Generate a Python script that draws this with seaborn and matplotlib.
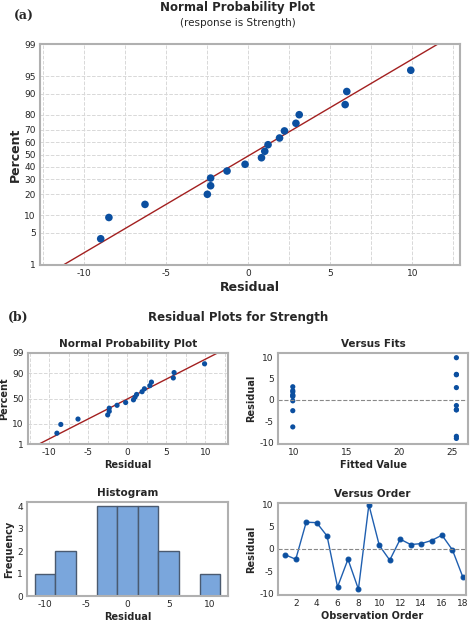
import numpy as np
import pandas as pd
import seaborn as sns
import matplotlib
matplotlib.use("Agg")
import matplotlib.pyplot as plt
from statistics import NormalDist

observation = list(range(1, 19))
residual = [-1.3, -2.3, 6.0, 5.9, 2.9, -8.5, -2.3, -9.0, 9.9,
            0.8, -2.5, 2.2, 1.0, 1.2, 1.9, 3.1, -0.2, -6.3]
fitted = [25.4] * 9 + [9.9] * 9
pct_ticks = [1, 5, 10, 20, 30, 40, 50, 60, 70, 80, 90, 95, 99]
pct_ticks_small = [1, 10, 50, 90, 99]
hist_edges = [-11.25, -8.75, -6.25, -3.75, -1.25, 1.25, 3.75, 6.25, 8.75, 11.25]

df = pd.DataFrame({"obs": observation, "resid": residual, "fit": fitted})
nd = NormalDist()
srt = df.sort_values("resid").reset_index(drop=True)
n = len(srt)
srt["z"] = [nd.inv_cdf((i + 1 - 0.3) / (n + 0.4)) for i in range(n)]
mu, sd = np.mean(residual), np.std(residual, ddof=1)

sns.set_theme(style="white")
plt.rcParams["font.family"] = ["DejaVu Sans"]
plt.rcParams["axes.unicode_minus"] = False
blue = "#0b4fa0"
red = "#a32020"
edge = "#b0b0b0"


def frame(ax):
    for s in ax.spines.values():
        s.set_color(edge)
        s.set_linewidth(1.5)
    ax.tick_params(length=2, color=edge, labelsize=6.5, pad=1)


def probplot(ax, ticks, ms, lab):
    zl = nd.inv_cdf(0.01), nd.inv_cdf(0.99)
    xs = np.linspace(-14, 14, 50)
    ax.plot(xs, (xs - mu) / sd, color=red, lw=1)
    sns.scatterplot(data=srt, x="resid", y="z", ax=ax, color=blue, s=ms,
                    edgecolor="none", zorder=3)
    ax.set_ylim(*zl)
    ax.set_xlim(-12.7, 12.9)
    ax.set_yticks([nd.inv_cdf(p / 100) for p in ticks])
    ax.set_yticklabels([str(p) for p in ticks])
    ax.set_xticks([-10, -5, 0, 5, 10])
    ax.set_xticks([-12.5, -7.5, -2.5, 2.5, 7.5, 12.5], minor=True)
    ax.grid(True, which="both", ls="--", color="#d8d8d8", lw=0.7)
    ax.set_xlabel("Residual", fontsize=lab, fontweight="bold", labelpad=2)
    ax.set_ylabel("Percent", fontsize=lab, fontweight="bold", labelpad=2)
    frame(ax)


fig = plt.figure(figsize=(4.74, 6.23), dpi=100)
W, H = 474, 623


def box(x0, y0, x1, y1):
    return [x0 / W, 1 - y1 / H, (x1 - x0) / W, (y1 - y0) / H]


# (a)
fig.text(14 / W, 1 - 16 / H, "(a)", fontsize=9, fontweight="bold", family="serif", va="center")
fig.text(238 / W, 1 - 8 / H, "Normal Probability Plot", fontsize=8.5, fontweight="bold", ha="center", va="center")
fig.text(238 / W, 1 - 23 / H, "(response is Strength)", fontsize=7.5, ha="center", va="center")
ax = fig.add_axes(box(40, 44, 460, 265))
probplot(ax, pct_ticks, 30, 9)

# (b)
fig.text(8 / W, 1 - 317 / H, "(b)", fontsize=9, fontweight="bold", family="serif", va="center")
fig.text(238 / W, 1 - 317 / H, "Residual Plots for Strength", fontsize=8.5, fontweight="bold", ha="center", va="center")

ax1 = fig.add_axes(box(28, 353, 228, 444))
probplot(ax1, pct_ticks_small, 14, 7)
ax1.set_title("Normal Probability Plot", fontsize=7.5, fontweight="bold", pad=4)

ax2 = fig.add_axes(box(278, 353, 468, 444))
sns.scatterplot(data=df, x="fit", y="resid", ax=ax2, color=blue, s=14, edgecolor="none")
ax2.axhline(0, color="#888888", ls="--", lw=0.8)
ax2.set_xlim(8.5, 26.5)
ax2.set_ylim(-10.3, 11)
ax2.set_xticks([10, 15, 20, 25])
ax2.set_yticks([-10, -5, 0, 5, 10])
ax2.set_xlabel("Fitted Value", fontsize=7, fontweight="bold", labelpad=2)
ax2.set_ylabel("Residual", fontsize=7, fontweight="bold", labelpad=2)
ax2.set_title("Versus Fits", fontsize=7.5, fontweight="bold", pad=4)
frame(ax2)

ax3 = fig.add_axes(box(27, 502, 228, 596))
sns.histplot(data=df, x="resid", bins=hist_edges, ax=ax3, color="#7aa6dc",
             edgecolor="#4a5a70", linewidth=1, alpha=1)
ax3.set_xlim(-12.2, 12.2)
ax3.set_ylim(0, 4.2)
ax3.set_xticks([-10, -5, 0, 5, 10])
ax3.set_yticks([0, 1, 2, 3, 4])
ax3.set_xlabel("Residual", fontsize=7, fontweight="bold", labelpad=2)
ax3.set_ylabel("Frequency", fontsize=7, fontweight="bold", labelpad=2)
ax3.set_title("Histogram", fontsize=7.5, fontweight="bold", pad=4)
frame(ax3)

ax4 = fig.add_axes(box(278, 503, 466, 595))
sns.lineplot(data=df, x="obs", y="resid", ax=ax4, color="#1f5fb0", lw=1,
             marker="o", markersize=3.5, markeredgecolor=blue, markerfacecolor=blue)
ax4.axhline(0, color="#888888", ls="--", lw=0.8)
ax4.set_xlim(0.3, 18.3)
ax4.set_ylim(-10.3, 10.3)
ax4.set_xticks(list(range(2, 19, 2)))
ax4.set_yticks([-10, -5, 0, 5, 10])
ax4.set_xlabel("Observation Order", fontsize=7, fontweight="bold", labelpad=2)
ax4.set_ylabel("Residual", fontsize=7, fontweight="bold", labelpad=2)
ax4.set_title("Versus Order", fontsize=7.5, fontweight="bold", pad=4)
frame(ax4)

fig.savefig("out.png", dpi=100)
